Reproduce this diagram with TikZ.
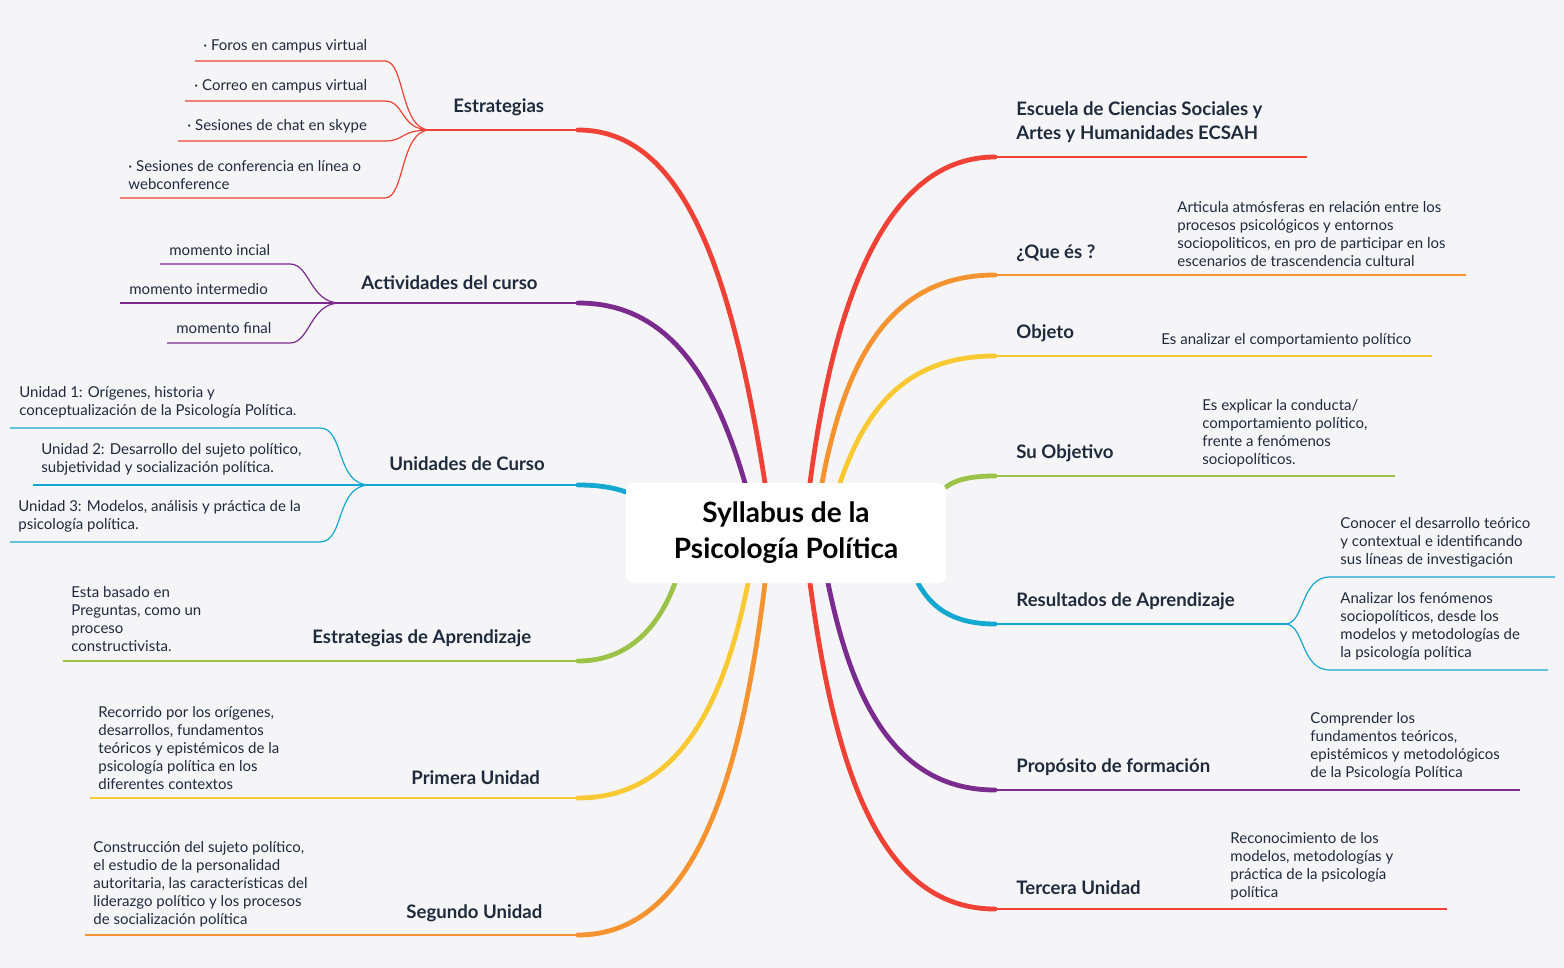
\documentclass[tikz,border=0pt]{standalone}
\usepackage{fontspec}
\setmainfont{Lato}
\definecolor{bg}{HTML}{F5F5F7}
\definecolor{cR}{HTML}{EF4136}
\definecolor{cO}{HTML}{F4932F}
\definecolor{cY}{HTML}{F9C934}
\definecolor{cG}{HTML}{9BC34A}
\definecolor{cC}{HTML}{14A8D0}
\definecolor{cP}{HTML}{7B2A8E}
\definecolor{tx}{HTML}{1F2A3C}
\begin{document}
\begin{tikzpicture}[x=0.5pt,y=-0.5pt,
 ttl/.style={font=\fontsize{9.3}{12}\selectfont\bfseries,text=tx,inner sep=0pt,align=left},
 sub/.style={font=\fontsize{7.5}{9}\selectfont,text=tx,inner sep=0pt,align=left},
 trunk/.style={line width=2.4pt,line cap=round},
 ul/.style={line width=0.9pt},
 tw/.style={line width=0.6pt}]
\fill[bg] (0,0) rectangle (1564,968);
\useasboundingbox (0,0) rectangle (1564,968);
% coordinates
\coordinate (bx1) at (765,483);\coordinate (bx2) at (745,483);\coordinate (bx3) at (626,492);
\coordinate (bx4) at (675,583);\coordinate (bx5) at (748,583);\coordinate (bx6) at (765,583);
\coordinate (bx7) at (810,483);\coordinate (bx8) at (822,483);\coordinate (bx9) at (840,483);
\coordinate (bx10) at (946,487);\coordinate (bx11) at (918,583);\coordinate (bx12) at (828,583);
\coordinate (bx13) at (810,583);
% left trunks
\draw[trunk,cR] (578,130) .. controls (680,130) and (730,260) .. (bx1);
\draw[ul,cR] (578,130) -- (420,130);
\draw[trunk,cP] (578,303) .. controls (670,303) and (715,380) .. (bx2);
\draw[ul,cP] (578,303) -- (330,303);
\draw[trunk,cC] (578,485) .. controls (600,485) and (615,488) .. (bx3);
\draw[ul,cC] (578,485) -- (360,485);
\draw[trunk,cG] (578,661) .. controls (640,661) and (665,610) .. (bx4);
\draw[ul,cG] (578,661) -- (63,661);
\draw[trunk,cY] (578,798) .. controls (680,798) and (725,700) .. (bx5);
\draw[ul,cY] (578,798) -- (90,798);
\draw[trunk,cO] (578,935) .. controls (690,935) and (740,790) .. (bx6);
\draw[ul,cO] (578,935) -- (85,935);
% right trunks
\draw[trunk,cR] (995,157) .. controls (890,157) and (835,290) .. (bx7);
\draw[ul,cR] (995,157) -- (1307,157);
\draw[trunk,cO] (995,275) .. controls (890,275) and (845,360) .. (bx8);
\draw[ul,cO] (995,275) -- (1466,275);
\draw[trunk,cY] (995,356) .. controls (905,356) and (865,410) .. (bx9);
\draw[ul,cY] (995,356) -- (1432,356);
\draw[trunk,cG] (995,476) .. controls (970,476) and (955,480) .. (bx10);
\draw[ul,cG] (995,476) -- (1395,476);
\draw[trunk,cC] (995,624) .. controls (950,624) and (930,605) .. (bx11);
\draw[ul,cC] (995,624) -- (1285,624);
\draw[trunk,cP] (995,790) .. controls (890,790) and (850,690) .. (bx12);
\draw[ul,cP] (995,790) -- (1520,790);
\draw[trunk,cR] (995,909) .. controls (880,909) and (835,770) .. (bx13);
\draw[ul,cR] (995,909) -- (1447,909);
% center
\node[fill=white,rounded corners=4pt,minimum width=160pt,minimum height=50pt,
 font=\fontsize{14}{18}\selectfont\bfseries,text=black,align=center] (c) at (786,533)
 {Syllabus de la\\Psicología Política};
% titles left
\node[ttl,anchor=south west] (t1) at (453,116) {Estrategias};
\node[ttl,anchor=south west] (t2) at (361,290) {Actividades del curso};
\node[ttl,anchor=south west] (t3) at (389,471) {Unidades de Curso};
\node[ttl,anchor=south west] (t4) at (312,647) {Estrategias de Aprendizaje};
\node[ttl,anchor=south west] (t5) at (411,785) {Primera Unidad};
\node[ttl,anchor=south west] (t6) at (406,922) {Segundo Unidad};
% titles right
\node[ttl,anchor=south west] (r1) at (1016,143) {Escuela de Ciencias Sociales y\\Artes y Humanidades ECSAH};
\node[ttl,anchor=south west] (r2) at (1016,262) {¿Que és ?};
\node[ttl,anchor=south west] (r3) at (1016,342) {Objeto};
\node[ttl,anchor=south west] (r4) at (1016,462) {Su Objetivo};
\node[ttl,anchor=south west] (r5) at (1016,610) {Resultados de Aprendizaje};
\node[ttl,anchor=south west] (r6) at (1016,776) {Propósito de formación};
\node[ttl,anchor=south west] (r7) at (1016,895) {Tercera Unidad};
% Estrategias subs
\coordinate (h1) at (430,130);
\foreach \y/\xa in {61/195,101/185,141/178,198/120}{
 \draw[tw,cR] (\xa,\y) -- (385,\y) .. controls (405,\y) and (400,130) .. (h1);}
\node[sub,anchor=south west] (s11) at (203,53) {· Foros en campus virtual};
\node[sub,anchor=south west] (s12) at (194,93) {· Correo en campus virtual};
\node[sub,anchor=south west] (s13) at (187,133) {· Sesiones de chat en skype};
\node[sub,anchor=south west] (s14) at (128,190) {· Sesiones de conferencia en línea o\\webconference};
% Actividades subs
\coordinate (h2) at (340,303);
\foreach \y/\xa in {264/160,303/120,343/167}{
 \draw[tw,cP] (\xa,\y) -- (290,\y) .. controls (310,\y) and (310,303) .. (h2);}
\node[sub,anchor=south west] (s21) at (169,256) {momento incial};
\node[sub,anchor=south west] (s22) at (129,295) {momento intermedio};
\node[sub,anchor=south west] (s23) at (176,334) {momento final};
% Unidades subs
\coordinate (h3) at (370,485);
\foreach \y/\xa in {428/10,485/33,542/10}{
 \draw[tw,cC] (\xa,\y) -- (320,\y) .. controls (345,\y) and (335,485) .. (h3);}
\node[sub,anchor=south west] (s31) at (19,419) {Unidad 1: Orígenes, historia y\\conceptualización de la Psicología Política.};
\node[sub,anchor=south west] (s32) at (41,476) {Unidad 2: Desarrollo del sujeto político,\\subjetividad y socialización política.};
\node[sub,anchor=south west] (s33) at (18,533) {Unidad 3: Modelos, análisis y práctica de la\\psicología política.};
% other left texts
\node[sub,anchor=south west] (s4) at (71,652) {Esta basado en\\Preguntas, como un\\proceso\\constructivista.};
\node[sub,anchor=south west] (s5) at (98,790) {Recorrido por los orígenes,\\desarrollos, fundamentos\\teóricos y epistémicos de la\\psicología política en los\\diferentes contextos};
\node[sub,anchor=south west] (s6) at (93,927) {Construcción del sujeto político,\\el estudio de la personalidad\\autoritaria, las características del\\liderazgo político y los procesos\\de socialización política};
% right texts
\node[sub,anchor=south west] (q2) at (1177,267) {Articula atmósferas en relación entre los\\procesos psicológicos y entornos\\sociopoliticos, en pro de participar en los\\escenarios de trascendencia cultural};
\node[sub,anchor=south west] (q3) at (1161,347) {Es analizar el comportamiento político};
\node[sub,anchor=south west] (q4) at (1202,467) {Es explicar la conducta/\\comportamiento político,\\frente a fenómenos\\sociopolíticos.};
\coordinate (h5) at (1285,624);
\draw[tw,cC] (h5) .. controls (1305,624) and (1300,577) .. (1330,577) -- (1555,577);
\draw[tw,cC] (h5) .. controls (1305,624) and (1300,670) .. (1330,670) -- (1548,670);
\node[sub,anchor=south west] (q51) at (1340,568) {Conocer el desarrollo teórico\\y contextual e identificando\\sus líneas de investigación};
\node[sub,anchor=south west] (q52) at (1340,661) {Analizar los fenómenos\\sociopolíticos, desde los\\modelos y metodologías de\\la psicología política};
\node[sub,anchor=south west] (q6) at (1310,781) {Comprender los\\fundamentos teóricos,\\epistémicos y metodológicos\\de la Psicología Política};
\node[sub,anchor=south west] (q7) at (1230,900) {Reconocimiento de los\\modelos, metodologías y\\práctica de la psicología\\política};
\end{tikzpicture}
\end{document}
